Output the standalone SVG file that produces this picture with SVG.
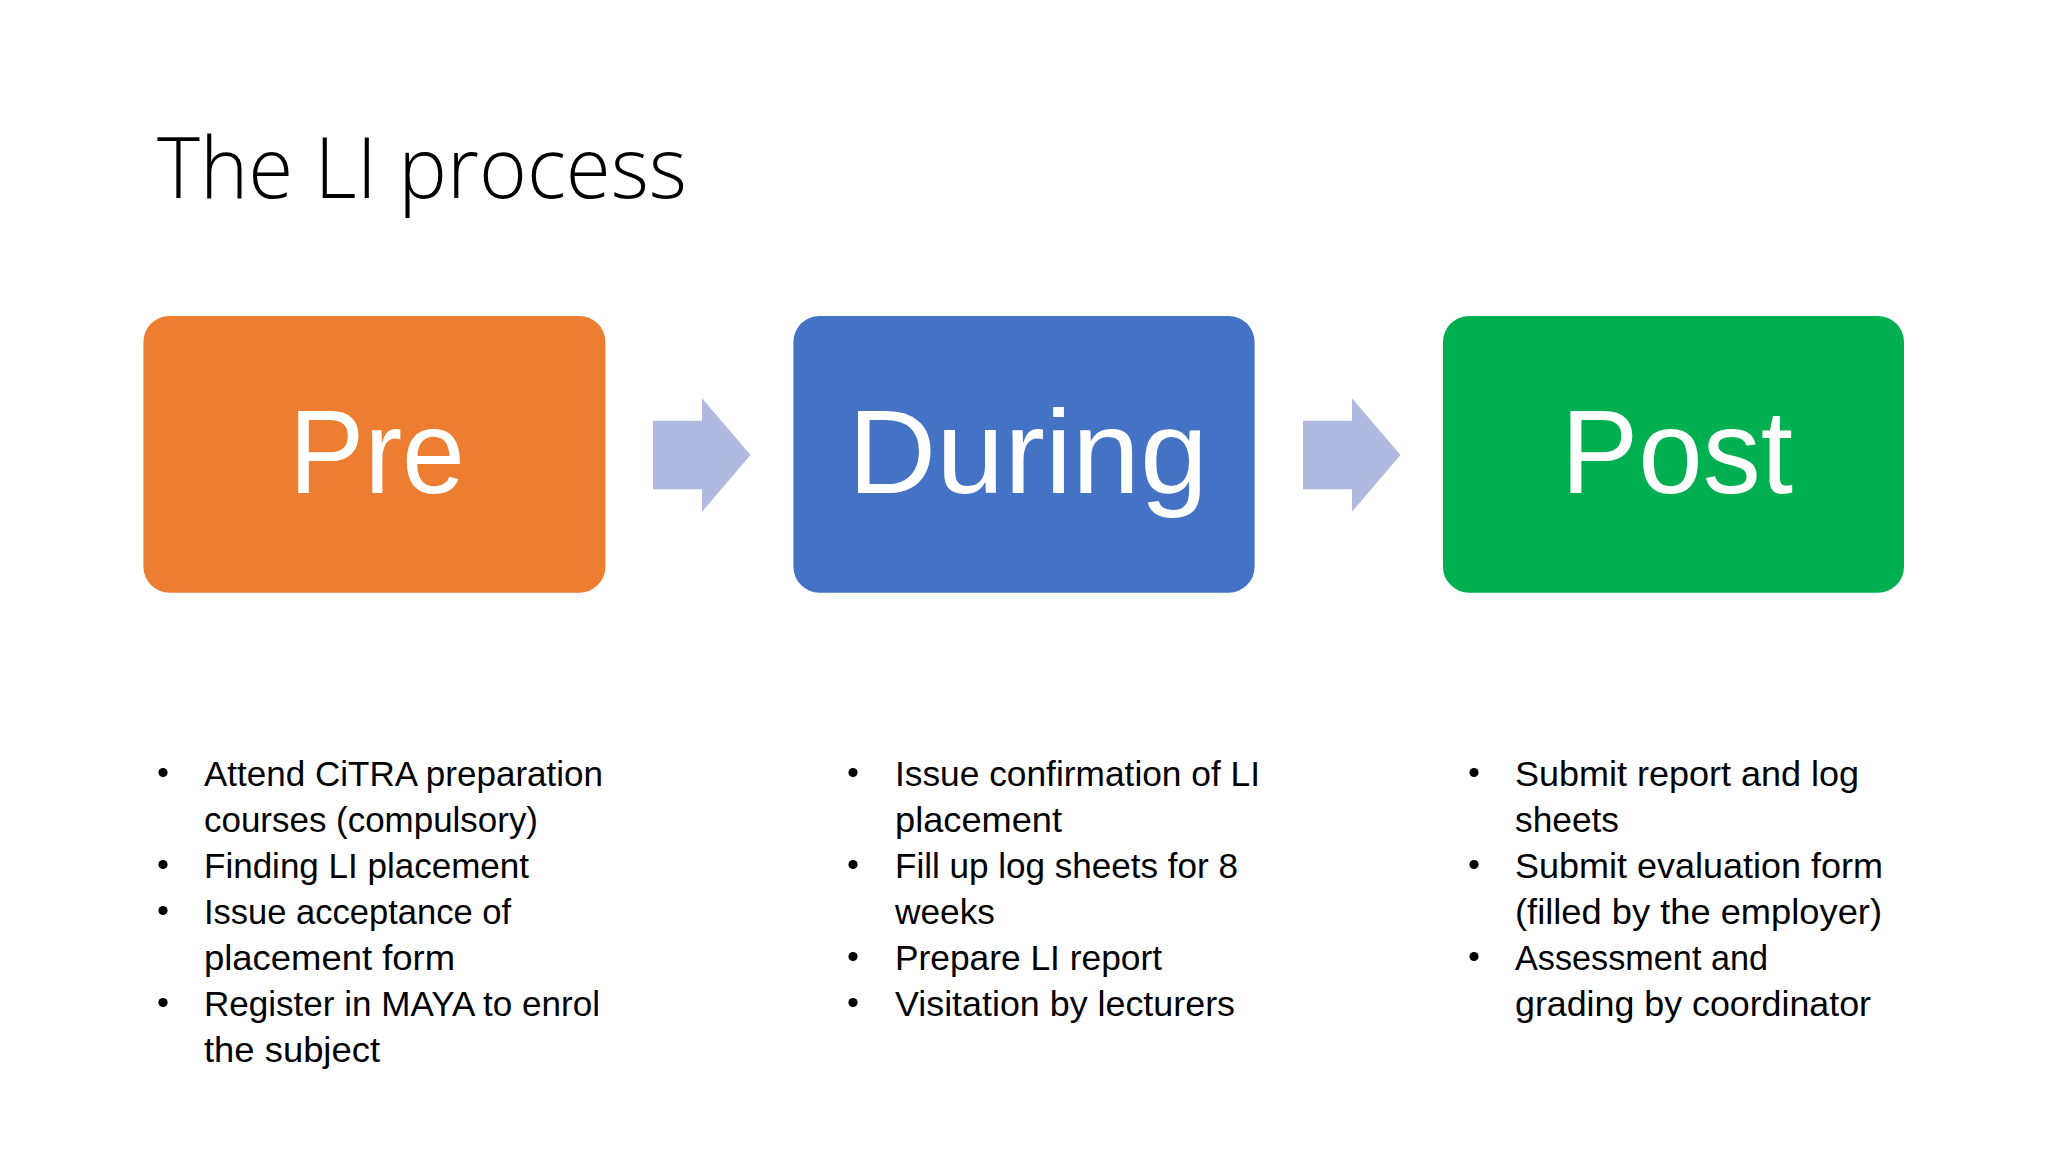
<svg xmlns="http://www.w3.org/2000/svg" width="2048" height="1152" viewBox="0 0 2048 1152">
  <style>
    .title { font-family: "Open Sans", "Liberation Sans", sans-serif; font-weight: 300; font-size: 84px; fill: #000000; }
    .label { font-family: "Liberation Sans", Arial, sans-serif; font-size: 119px; fill: #ffffff; text-anchor: middle; }
    .body { font-family: "Liberation Sans", Arial, sans-serif; font-size: 35px; fill: #000000; }
    .bullet { fill: #000000; }
    .arrow { fill: #B0B9E0; }
  </style>
  <rect x="0" y="0" width="2048" height="1152" fill="#ffffff"/>
  <text id="title" class="title" x="157" y="198" textLength="530" lengthAdjust="spacingAndGlyphs">The LI process</text>

  <g id="node-pre">
    <rect x="143.4" y="316" width="462" height="276.7" rx="26" ry="26" fill="#ED7D31"/>
    <text class="label" x="377" y="492.7" textLength="176" lengthAdjust="spacingAndGlyphs">Pre</text>
  </g>
  <g id="node-during">
    <rect x="793.4" y="316" width="461.2" height="276.7" rx="26" ry="26" fill="#4472C4"/>
    <text class="label" x="1028" y="492.7" textLength="360" lengthAdjust="spacingAndGlyphs">During</text>
  </g>
  <g id="node-post">
    <rect x="1443" y="316" width="461" height="276.7" rx="26" ry="26" fill="#00B050"/>
    <text class="label" x="1677" y="492.7" textLength="232" lengthAdjust="spacingAndGlyphs">Post</text>
  </g>

  <g id="connectors">
    <polygon class="arrow" points="653,420.7 702,420.7 702,398.3 750.5,455 702,511.7 702,489.3 653,489.3"/>
    <polygon class="arrow" points="1303,420.7 1352,420.7 1352,398.3 1400.5,455 1352,511.7 1352,489.3 1303,489.3"/>
  </g>

  <g id="list-pre">
    <circle class="bullet" cx="163" cy="772.5" r="4.6"/>
    <circle class="bullet" cx="163" cy="864.5" r="4.6"/>
    <circle class="bullet" cx="163" cy="910.5" r="4.6"/>
    <circle class="bullet" cx="163" cy="1002.5" r="4.6"/>
    <text class="body" x="204" y="785.5" textLength="399" lengthAdjust="spacingAndGlyphs">Attend CiTRA preparation</text>
    <text class="body" x="204" y="831.5" textLength="334" lengthAdjust="spacingAndGlyphs">courses (compulsory)</text>
    <text class="body" x="204" y="877.5" textLength="325" lengthAdjust="spacingAndGlyphs">Finding LI placement</text>
    <text class="body" x="204" y="923.5" textLength="307" lengthAdjust="spacingAndGlyphs">Issue acceptance of</text>
    <text class="body" x="204" y="969.5" textLength="251" lengthAdjust="spacingAndGlyphs">placement form</text>
    <text class="body" x="204" y="1015.5" textLength="396" lengthAdjust="spacingAndGlyphs">Register in MAYA to enrol</text>
    <text class="body" x="204" y="1061.5" textLength="176" lengthAdjust="spacingAndGlyphs">the subject</text>
  </g>

  <g id="list-during">
    <circle class="bullet" cx="853" cy="772.5" r="4.6"/>
    <circle class="bullet" cx="853" cy="864.5" r="4.6"/>
    <circle class="bullet" cx="853" cy="956.5" r="4.6"/>
    <circle class="bullet" cx="853" cy="1002.5" r="4.6"/>
    <text class="body" x="895" y="785.5" textLength="365" lengthAdjust="spacingAndGlyphs">Issue confirmation of LI</text>
    <text class="body" x="895" y="831.5" textLength="167" lengthAdjust="spacingAndGlyphs">placement</text>
    <text class="body" x="895" y="877.5" textLength="343" lengthAdjust="spacingAndGlyphs">Fill up log sheets for 8</text>
    <text class="body" x="895" y="923.5" textLength="100" lengthAdjust="spacingAndGlyphs">weeks</text>
    <text class="body" x="895" y="969.5" textLength="267" lengthAdjust="spacingAndGlyphs">Prepare LI report</text>
    <text class="body" x="895" y="1015.5" textLength="340" lengthAdjust="spacingAndGlyphs">Visitation by lecturers</text>
  </g>

  <g id="list-post">
    <circle class="bullet" cx="1474" cy="772.5" r="4.6"/>
    <circle class="bullet" cx="1474" cy="864.5" r="4.6"/>
    <circle class="bullet" cx="1474" cy="956.5" r="4.6"/>
    <text class="body" x="1515" y="785.5" textLength="344" lengthAdjust="spacingAndGlyphs">Submit report and log</text>
    <text class="body" x="1515" y="831.5" textLength="104" lengthAdjust="spacingAndGlyphs">sheets</text>
    <text class="body" x="1515" y="877.5" textLength="368" lengthAdjust="spacingAndGlyphs">Submit evaluation form</text>
    <text class="body" x="1515" y="923.5" textLength="367" lengthAdjust="spacingAndGlyphs">(filled by the employer)</text>
    <text class="body" x="1515" y="969.5" textLength="253" lengthAdjust="spacingAndGlyphs">Assessment and</text>
    <text class="body" x="1515" y="1015.5" textLength="356" lengthAdjust="spacingAndGlyphs">grading by coordinator</text>
  </g>
</svg>
